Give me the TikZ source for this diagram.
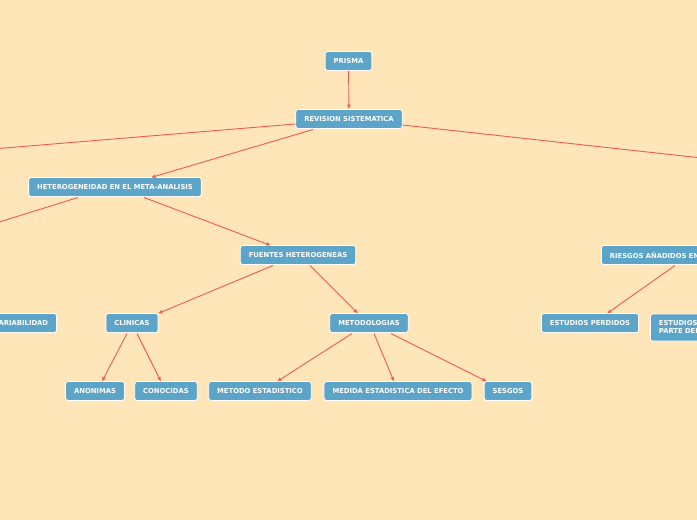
\documentclass[tikz,border=0pt]{standalone}
\usepackage{fontspec}
\setmainfont{DejaVu Sans}
\usetikzlibrary{arrows.meta}
\definecolor{bg}{HTML}{FFE6B8}
\definecolor{nb}{HTML}{5CA5C8}
\definecolor{ln}{HTML}{F05A55}
\tikzset{
 box/.style={draw=white,line width=0.8pt,fill=nb,rounded corners=2.5pt,text=white,font=\bfseries\fontsize{6.8}{8}\selectfont,minimum height=19pt,inner xsep=8.5pt,align=left},
 conn/.style={draw=ln,line width=0.9pt,-{Latex[length=4.5pt,width=4pt]}},
 cline/.style={draw=ln,line width=0.9pt}
}
\begin{document}
\begin{tikzpicture}[x=1pt,y=-1pt]
\path[use as bounding box,fill=bg] (0,0) rectangle (697,520);
\clip (0,0) rectangle (697,520);
\node[box] (prisma) at (348.5,61) {PRISMA};
\node[box] (rev) at (349,119) {REVISION SISTEMATICA};
\node[box] (het) at (115,187) {HETEROGENEIDAD EN EL META-ANALISIS};
\node[box] (fue) at (298,255) {FUENTES HETEROGENEAS};
\node[box,anchor=west] (rie) at (601,255) {RIESGOS AÑADIDOS EN EL META-ANALISIS};
\node[box,anchor=east] (var) at (57,323) {VARIABILIDAD};
\node[box] (cli) at (132,323) {CLINICAS};
\node[box] (met) at (369,323) {METODOLOGIAS};
\node[box] (per) at (590,323) {ESTUDIOS PERDIDOS};
\node[box,anchor=west,minimum height=27pt] (par) at (650,327.5) {ESTUDIOS PUBLICADOS POR\\PARTE DEL MISMO AUTOR};
\node[box] (ano) at (95,391) {ANONIMAS};
\node[box] (con) at (166,391) {CONOCIDAS};
\node[box] (mes) at (260,391) {METODO ESTADISTICO};
\node[box] (med) at (398,391) {MEDIDA ESTADISTICA DEL EFECTO};
\node[box] (ses) at (508,391) {SESGOS};
\coordinate (offL) at (-20,150);
\coordinate (offR) at (720,160);
\coordinate (offH) at (-20,228);
\draw[conn] (prisma) -- (rev);
\draw[cline] (rev.west) ++(0,5) -- (offL);
\draw[cline] (rev.east) ++(0,6) -- (offR);
\draw[conn] (313,129.5) -- (151,177.5);
\draw[cline] (78,197.5) -- (offH);
\draw[conn] (144,197.5) -- (271,245.5);
\draw[conn] (273,265.5) -- (158,313.5);
\draw[conn] (310,265.5) -- (358,313.5);
\draw[conn] (675,265.5) -- (607,313.5);
\draw[conn] (127,333.5) -- (102,381.5);
\draw[conn] (137,333.5) -- (161,381.5);
\draw[conn] (352,333.5) -- (277,381.5);
\draw[conn] (374,333.5) -- (394,381.5);
\draw[conn] (391,333.5) -- (487,381.5);
\end{tikzpicture}
\end{document}
